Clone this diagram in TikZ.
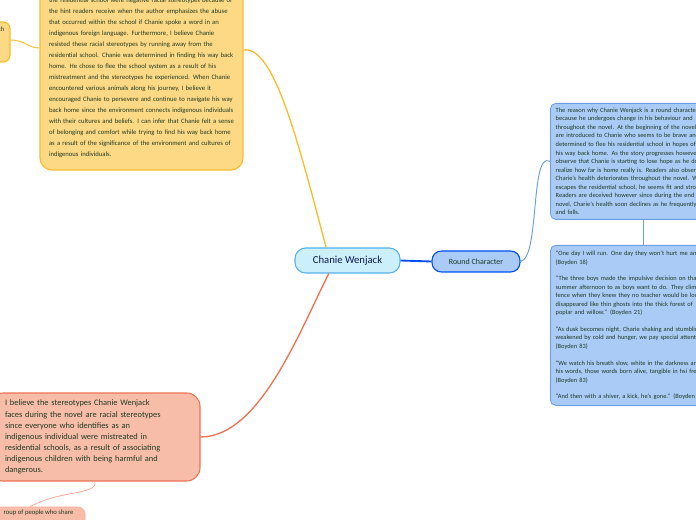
\documentclass[tikz,border=0pt]{standalone}
\usepackage{fontspec}
\setmainfont{Carlito}
\begin{document}
\begin{tikzpicture}[x=0.75pt,y=-0.75pt,
  ybox/.style={draw=ydraw,line width=0.9pt,fill=yfill,rounded corners=9pt,align=left,font=\fontsize{5}{8.25}\selectfont,text=tcol,inner sep=0pt},
  bbox/.style={draw=bdraw,line width=0.6pt,fill=bfill,rounded corners=4pt,align=left,font=\fontsize{4.8}{6.4}\selectfont,text=tcol,inner ysep=0pt,inner xsep=4pt},
  obox/.style={draw=odraw,line width=0.8pt,fill=ofill,rounded corners=10pt,align=left,font=\fontsize{6.3}{8.3}\selectfont,text=tcol,inner sep=0pt},
  yline/.style={draw=ydraw,line width=1pt},
  oline/.style={draw=odraw,line width=1pt},
  bline/.style={draw=bdraw,line width=0.7pt}]
\definecolor{yfill}{HTML}{FDD985}
\definecolor{ydraw}{HTML}{F7BE2E}
\definecolor{bfill}{HTML}{A9CBF6}
\definecolor{bdraw}{HTML}{6A9DE4}
\definecolor{ofill}{HTML}{F8BDA9}
\definecolor{odraw}{HTML}{EE7352}
\definecolor{tcol}{HTML}{1E3A22}
\useasboundingbox (0,0) rectangle (696,520);
\clip (0,0) rectangle (696,520);
% small left yellow
\node[ybox,rounded corners=5pt,minimum width=60*0.75pt,minimum height=40*0.75pt] (sy) at (-20,42) {};
\node[font=\fontsize{5}{6}\selectfont,text=tcol,anchor=east] (syt) at (9,29) {th};
% big yellow
\node[ybox,minimum width=203*0.75pt,minimum height=195*0.75pt,text width=185*0.75pt] (yb) at (141.5,72.5) {%
I believe the stereotypes Chanie experienced within\\
the residential school were negative racial stereotypes because of\\
the hint readers receive when the author emphasizes the abuse\\
that occurred within the school if Chanie spoke a word in an\\
indigenous foreign language. Furthermore, I believe Chanie\\
resisted these racial stereotypes by running away from the\\
residential school. Chanie was determined in finding his way back\\
home. He chose to flee the school system as a result of his\\
mistreatment and the stereotypes he experienced. When Chanie\\
encountered various animals along his journey, I believe it\\
encouraged Chanie to persevere and continue to navigate his way\\
back home since the environment connects indigenous individuals\\
with their cultures and beliefs. I can infer that Chanie felt a sense\\
of belonging and comfort while trying to find his way back home\\
as a result of the significance of the environment and cultures of\\
indigenous individuals.};
% center
\node[draw=bdraw!80!cyan,fill=cyan!20,line width=0.8pt,rounded corners=8pt,minimum width=105*0.75pt,minimum height=25*0.75pt,font=\fontsize{8}{9}\selectfont,text=tcol!60!blue!70!black] (cw) at (347.5,260.5) {Chanie Wenjack};
\node[draw=blue!70!cyan,fill=bfill,line width=0.8pt,rounded corners=7pt,minimum width=88*0.75pt,minimum height=21*0.75pt,font=\fontsize{6}{7}\selectfont,text=tcol] (rc) at (476,261.5) {Round Character};
% blue boxes
\node[bbox,anchor=north west,minimum height=116*0.75pt,text width=200*0.75pt] (b1) at (550,103) {%
The reason why Chanie Wenjack is a round character\\
because he undergoes change in his behaviour and\\
throughout the novel. At the beginning of the novel, we\\
are introduced to Chanie who seems to be brave and\\
determined to flee his residential school in hopes of finding\\
his way back home. As the story progresses however, we\\
observe that Chanie is starting to lose hope as he does\\
realize how far is home really is. Readers also observe\\
Charie's health deteriorates throughout the novel. When he\\
escapes the residential school, he seems fit and strong.\\
Readers are deceived however since during the end of the\\
novel, Charie's health soon declines as he frequently stumbles\\
and falls.};
\node[bbox,anchor=north west,minimum height=160*0.75pt,text width=200*0.75pt] (b2) at (550,245) {%
``One day I will run. One day they won't hurt me anymore.''\\
(Boyden 18)\\[6pt]
``The three boys made the impulsive decision on that\\
summer afternoon to as boys want to do. They climbed the\\
fence when they knew they no teacher would be looking and\\
disappeared like thin ghosts into the thick forest of\\
poplar and willow.'' (Boyden 21)\\[6pt]
``As dusk becomes night, Charie shaking and stumbling,\\
weakened by cold and hunger, we pay special attention.''\\
(Boyden 83)\\[6pt]
``We watch his breath slow, white in the darkness and\\
his words, those words born alive, tangible in hsi freezing air.''\\
(Boyden 83)\\[6pt]
``And then with a shiver, a kick, he's gone.'' (Boyden 84)};
\coordinate (b1s) at (643,219);
\coordinate (b2n) at (643,245);
% orange
\node[obox,minimum width=210*0.75pt,minimum height=88*0.75pt,text width=180*0.75pt] (ob) at (95,437) {%
I believe the stereotypes Chanie Wenjack\\
faces during the novel are racial stereotypes\\
since everyone who identifies as an\\
indigenous individual were mistreated in\\
residential schools, as a result of associating\\
indigenous children with being harmful and\\
dangerous.};
\node[draw=ofill!80!odraw,fill=ofill,rounded corners=5pt,minimum width=110*0.75pt,minimum height=30*0.75pt,inner sep=0pt] (ob2) at (30,522) {};
\node[font=\fontsize{5}{6}\selectfont,text=tcol,anchor=west] (ob2t) at (-1,513) {roup of people who share};
% connectors
\draw[yline,line width=0.7pt] (sy.east |- 0,40) .. controls (25,40) and (28,48) .. (yb.west |- 0,48);
\draw[yline] (yb.east |- 0,50) .. controls (275,45) and (300,150) .. ([xshift=-16pt]cw.north);
\draw[oline] (ob.east) .. controls (260,437) and (300,330) .. ([xshift=-14pt]cw.south);
\draw[draw=odraw!60,line width=0.6pt] (ob.south) .. controls (98,495) and (60,490) .. (ob2.north);
\draw[draw=blue!70!cyan,line width=1.4pt] (cw.east) -- (rc.west);
\draw[bline] (rc.east) .. controls (540,258) and (530,150) .. (b1.west);
\draw[bline] (b1s) -- (b2n);
\end{tikzpicture}
\end{document}
